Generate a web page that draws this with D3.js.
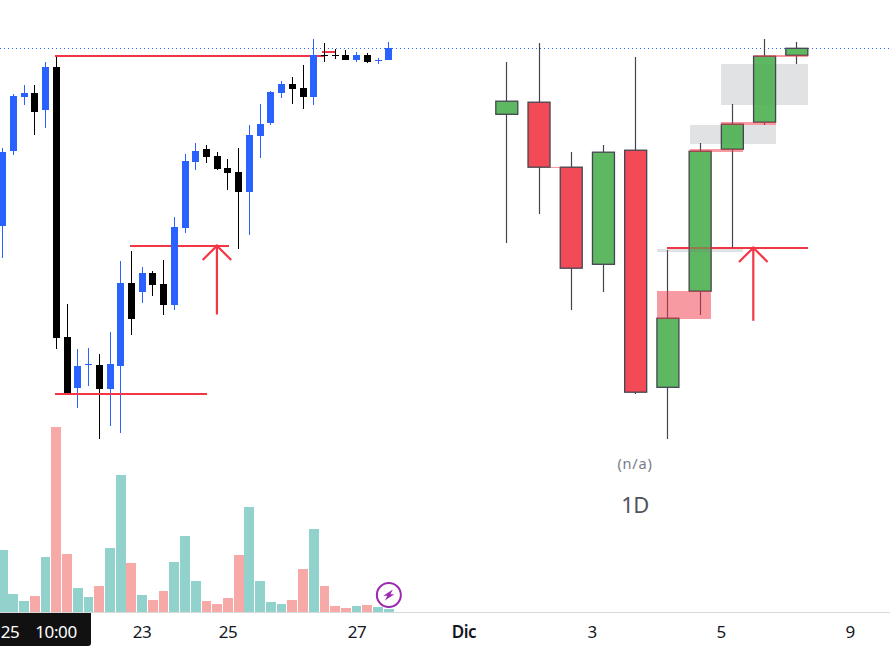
<!DOCTYPE html>
<html>
<head>
<meta charset="utf-8">
<style>
  html, body { margin: 0; padding: 0; background: #fff; }
  svg { display: block; }
  text { font-family: "Noto Sans", "Open Sans", sans-serif; }
</style>
<script src="https://cdn.jsdelivr.net/npm/d3@7/dist/d3.min.js"></script>
</head>
<body>
<svg id="chart" width="890" height="647"></svg>
<script>
// Intraday session, in relative price units (no price scale is shown on the chart).
const intraOpen  = [386, 461, 515, 519, 502, 545, 275, 224, 247, 247, 223, 246, 329, 320, 339, 328, 307, 384, 450, 463, 456, 444, 440, 420, 476, 489, 519, 528, 524, 515, 557, 557, 557, 552, 557, 551, 552];
const intraClose = [460, 516, 519, 500, 545, 274, 219, 246, 247.6, 223, 248, 329, 293, 339, 327, 307, 385, 451, 461, 455, 443, 439, 420, 477, 488, 520, 528, 523, 515, 557, 556.5, 556.5, 552, 557, 550, 551.6, 564];
const intraHigh  = [464, 518, 527, 527, 550, 555, 308, 263, 264, 258, 280, 351, 361, 345, 341, 352, 395, 458, 469, 467, 460, 453, 464, 487, 508, 521, 531, 535, 547, 573, 569, 563, 562, 560, 559, 554, 570];
const intraLow   = [354, 457, 507, 477, 484, 263, 218, 204, 226, 173, 186, 179, 277, 309, 316, 297, 302, 379, 442, 449, 442, 422, 363, 377, 454, 487, 514, 508, 503, 507, 550, 553, 552, 550, 549, 548, 552];
const intraVolume = [62, 18, 11, 16, 55, 185, 58, 24, 15, 26, 64, 137, 49, 17, 12, 21, 50, 76, 31, 11, 8, 14, 57, 105, 31, 10, 8, 12, 43, 83, 26, 6, 4, 6, 7, 5, 3];

// Daily session.
const dailyOpen  = [497.7, 509.8, 444.8, 347.7, 461.8, 224.7, 320.8, 462.8, 489.8, 556.7];
const dailyClose = [510.8, 444.8, 343.8, 459.8, 219.8, 293.8, 460.8, 487.8, 555.8, 563.7];
const dailyHigh  = [550, 569, 460, 467, 555, 362, 469, 508, 573, 570];
const dailyLow   = [369, 398, 302, 320, 218, 173, 297, 364, 487, 548];

// Horizontal levels and shaded zones, in the same price units.
const dottedLevel = 564;
const intraLevels = [
  { from: 4.9, to: 30, price: 556.3, over: false },
  { from: 29.8, to: 31, price: 560, over: false },
  { from: 11.85, to: 21.05, price: 366.3, over: false },
  { from: 4.9, to: 19.05, price: 218, over: true }
];
const dailyLevel = { from: 4.98, to: 9.35, price: 364.3 };
const greyZones = [
  { from: 6.66, to: 9.35, hi: 548, lo: 507.3, over: false },
  { from: 5.67, to: 8.35, hi: 487, lo: 468, over: false },
  { from: 4.665, to: 7.33, hi: 363, lo: 360, over: true }
];
const redZones = [
  { from: 4.665, to: 6.35, hi: 321, lo: 293 },
  { from: 5.67, to: 7.33, hi: 463, lo: 460 },
  { from: 6.66, to: 8.35, hi: 490, lo: 487 },
  { from: 7.66, to: 9.35, hi: 557, lo: 555.3 },
  { from: 1.33, to: 1.67, hi: 445.4, lo: 444.4 }
];
const arrows = [
  { scale: "intra", at: 19.97, tip: 366.3, tail: 298.7 },
  { scale: "daily", at: 7.65, tip: 364.3, tail: 292.3 }
];

const timeTicks = [
  { label: "25", at: 10, strong: false, onPill: true },
  { label: "23", at: 142, strong: false },
  { label: "25", at: 228, strong: false },
  { label: "27", at: 357, strong: false },
  { label: "Dic", at: 464, strong: true },
  { label: "3", at: 592, strong: false },
  { label: "5", at: 721, strong: false },
  { label: "9", at: 850, strong: false }
];

const width = 890, height = 647, axisY = 612;
const BLUE = "#2962ff", RED = "#f23645", OUTLINE = "#434651";
const GREEN_BODY = "#4caf50", RED_BODY = "#f23645";

const svg = d3.select("#chart");

const y = d3.scaleLinear().domain([0, 612]).range([612, 0]);
const xIntra = d3.scaleLinear().domain([0, 36]).range([2.75, 388.85]);
const xDaily = d3.scaleLinear().domain([0, 9]).range([506.8, 796.8]);
const yVol = d3.scaleLinear().domain([0, 185]).range([axisY, axisY - 185]);

const px = v => Math.floor(v);
const isUp = (o, c) => c >= o;

function zoneRects(sel, data, cls, fill) {
  sel.selectAll("rect." + cls).data(data).join("rect").attr("class", cls)
    .attr("x", d => xDaily(d.from)).attr("width", d => xDaily(d.to) - xDaily(d.from))
    .attr("y", d => y(d.hi)).attr("height", d => y(d.lo) - y(d.hi))
    .attr("fill", fill);
}
function dailyLevelRect(sel, opacity) {
  sel.append("rect").attr("shape-rendering", "crispEdges")
    .attr("x", xDaily(dailyLevel.from)).attr("width", xDaily(dailyLevel.to) - xDaily(dailyLevel.from))
    .attr("y", y(dailyLevel.price) - 1).attr("height", 2)
    .attr("fill", RED).attr("opacity", opacity);
}
const GREY_FILL = "rgba(120,123,134,0.22)";

// Current price marker, behind the candles.
svg.append("line").attr("x1", 0).attr("x2", width)
  .attr("y1", y(dottedLevel) + 0.5).attr("y2", y(dottedLevel) + 0.5)
  .attr("stroke", BLUE).attr("stroke-width", 1).attr("stroke-dasharray", "1 3");

// Levels that run behind the candles.
const backLayer = svg.append("g").attr("shape-rendering", "crispEdges");
backLayer.selectAll("rect").data(intraLevels.filter(d => !d.over)).join("rect")
  .attr("x", d => xIntra(d.from)).attr("width", d => xIntra(d.to) - xIntra(d.from))
  .attr("y", d => y(d.price) - 1).attr("height", 2).attr("fill", RED);

// Intraday candles: wick then body.
const intraIdx = d3.range(intraOpen.length);
const intra = svg.append("g").attr("shape-rendering", "crispEdges");
intra.selectAll("rect.wick").data(intraIdx).join("rect").attr("class", "wick")
  .attr("x", i => px(xIntra(i))).attr("width", 1)
  .attr("y", i => y(intraHigh[i])).attr("height", i => y(intraLow[i]) - y(intraHigh[i]))
  .attr("fill", i => isUp(intraOpen[i], intraClose[i]) ? BLUE : "#000");
intra.selectAll("rect.body").data(intraIdx).join("rect").attr("class", "body")
  .attr("x", i => px(xIntra(i)) - 3).attr("width", 7)
  .attr("y", i => y(Math.max(intraOpen[i], intraClose[i])))
  .attr("height", i => Math.max(1, Math.abs(y(intraOpen[i]) - y(intraClose[i]))))
  .attr("fill", i => isUp(intraOpen[i], intraClose[i]) ? BLUE : "#000");

// Levels drawn over the intraday candles.
svg.append("g").attr("shape-rendering", "crispEdges")
  .selectAll("rect").data(intraLevels.filter(d => d.over)).join("rect")
  .attr("x", d => xIntra(d.from)).attr("width", d => xIntra(d.to) - xIntra(d.from))
  .attr("y", d => y(d.price) - 1).attr("height", 2).attr("fill", RED);

// Zones and the level that sit under the daily candles.
const underDaily = svg.append("g").attr("shape-rendering", "crispEdges");
zoneRects(underDaily, greyZones.filter(d => !d.over), "grey", GREY_FILL);
dailyLevelRect(underDaily, 1);

// Daily candles with dark outlines; wicks stop at the body edges.
const dailyIdx = d3.range(dailyOpen.length);
const daily = svg.append("g");
const wickX = i => px(xDaily(i)) + 0.5;
const wick = (sel, from, to) => sel.append("g").selectAll("line").data(dailyIdx).join("line")
  .attr("x1", wickX).attr("x2", wickX)
  .attr("y1", from).attr("y2", to)
  .attr("stroke", OUTLINE).attr("stroke-width", 1.2);
wick(daily, i => y(dailyHigh[i]), i => y(Math.max(dailyOpen[i], dailyClose[i])));
wick(daily, i => y(Math.min(dailyOpen[i], dailyClose[i])), i => y(dailyLow[i]));
daily.append("g").selectAll("rect").data(dailyIdx).join("rect")
  .attr("x", i => xDaily(i) - 11).attr("width", 22)
  .attr("y", i => y(Math.max(dailyOpen[i], dailyClose[i])))
  .attr("height", i => Math.abs(y(dailyOpen[i]) - y(dailyClose[i])))
  .attr("fill", i => isUp(dailyOpen[i], dailyClose[i]) ? GREEN_BODY : RED_BODY)
  .attr("fill-opacity", 0.9)
  .attr("stroke", OUTLINE).attr("stroke-width", 1.3);

// Translucent zones and a faint pass of the level over the daily candles.
const zones = svg.append("g").attr("shape-rendering", "crispEdges");
zoneRects(zones, greyZones.filter(d => d.over), "grey", GREY_FILL);
zoneRects(zones, redZones, "red", "rgba(242,54,69,0.5)");
dailyLevelRect(zones, 0.35);

// Upward arrows marking the measured moves.
const arrowG = svg.append("g").attr("fill", "none").attr("stroke", RED)
  .attr("stroke-width", 2.2).attr("stroke-linecap", "square");
arrows.forEach(a => {
  const cx = (a.scale === "intra" ? xIntra : xDaily)(a.at);
  const tip = y(a.tip), tail = y(a.tail), wing = 13.5;
  arrowG.append("path").attr("d",
    `M${cx},${tail}L${cx},${tip}M${cx - wing},${tip + wing}L${cx},${tip}L${cx + wing},${tip + wing}`);
});

// Volume histogram, coloured by candle direction.
svg.append("g").attr("shape-rendering", "crispEdges")
  .selectAll("rect").data(intraIdx).join("rect")
  .attr("x", i => xIntra(i) - 5).attr("width", 9.8)
  .attr("y", i => yVol(intraVolume[i])).attr("height", i => axisY - yVol(intraVolume[i]))
  .attr("fill", i => isUp(intraOpen[i], intraClose[i]) ? "#92d2cc" : "#f7a9a7");

// Flash icon beside the latest volume bar.
const flash = svg.append("g").attr("transform", `translate(${xIntra(36)},595)`);
flash.append("circle").attr("r", 12).attr("fill", "#fff").attr("fill-opacity", 0.6)
  .attr("stroke", "#9c27b0").attr("stroke-width", 2);
flash.append("path").attr("fill", "#9c27b0")
  .attr("d", "M4,-5.5L-5.5,0.8L-1.5,0.8L-4,5.5L5.5,-0.8L1.5,-0.8Z");

// Study legend.
svg.append("text").attr("x", 635).attr("y", 469).attr("text-anchor", "middle")
  .attr("font-size", 14.5).attr("letter-spacing", 0.8).attr("fill", "#787b86").text("(n/a)");
svg.append("text").attr("x", 635).attr("y", 513).attr("text-anchor", "middle")
  .attr("font-size", 22).attr("letter-spacing", -0.5).attr("fill", "#50535e").text("1D");

// Time axis.
svg.append("line").attr("x1", 0).attr("x2", width).attr("y1", axisY + 0.5).attr("y2", axisY + 0.5)
  .attr("stroke", "#d9d9d9");
svg.append("path").attr("fill", "#111")
  .attr("d", "M0,613H91V643a3,3 0 0 1 -3,3H0Z");
svg.append("text").attr("x", 56).attr("y", 637.5).attr("text-anchor", "middle")
  .attr("font-size", 17).attr("letter-spacing", -0.4).attr("fill", "#fff").text("10:00");
svg.append("g").selectAll("text").data(timeTicks).join("text")
  .attr("x", d => d.at).attr("y", 637.5).attr("text-anchor", "middle")
  .attr("font-size", 17).attr("letter-spacing", -0.5).attr("font-weight", d => d.strong ? 600 : 400)
  .attr("fill", d => d.onPill ? "#fff" : "#131722")
  .text(d => d.label);
</script>
</body>
</html>
